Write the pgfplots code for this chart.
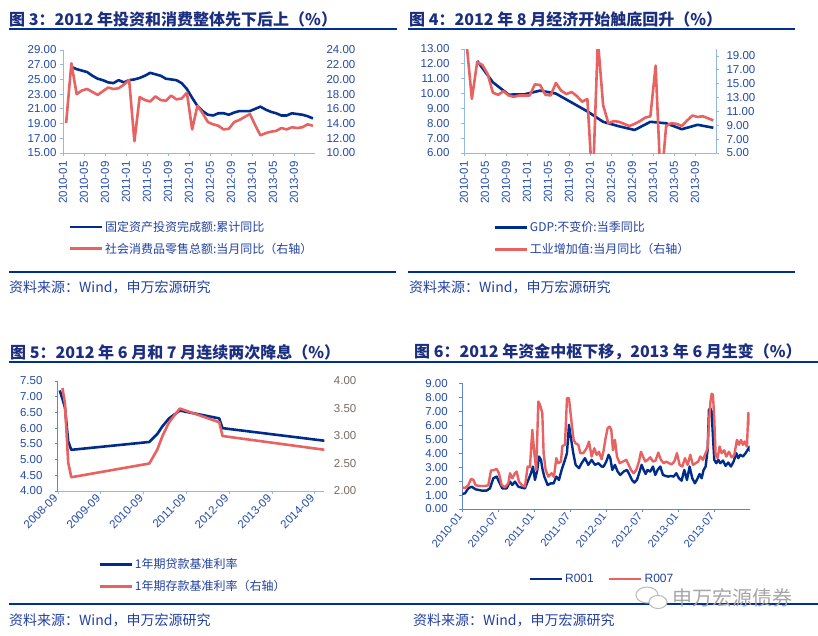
\documentclass[border=0pt]{standalone}
\usepackage{fontspec}
\setmainfont{Liberation Sans}
\newfontfamily\cjk{Noto Sans CJK SC}
\usepackage{pgfplots}
\pgfplotsset{compat=1.18}
\definecolor{navy}{RGB}{0,45,140}
\definecolor{salmon}{RGB}{232,98,98}
\definecolor{ttl}{RGB}{28,46,128}
\definecolor{rule}{RGB}{0,48,145}
\definecolor{tk}{RGB}{35,75,170}
\definecolor{ax}{RGB}{150,185,228}
\definecolor{axd}{RGB}{95,135,205}
\definecolor{ft}{RGB}{35,65,160}
\definecolor{tkg}{RGB}{120,110,100}
\pgfplotsset{
  base/.style={scale only axis, clip=true,
    axis line style={ax, line width=1pt, -},
    tick style={ax, line width=0.8pt},
    major tick length=3pt, tick align=outside,
    ticklabel style={font=\fontsize{11.5}{12}\selectfont, text=tk},
    yticklabel style={/pgf/number format/fixed, /pgf/number format/fixed zerofill,
      /pgf/number format/precision=2, /pgf/number format/assume math mode=true},
  },
  bl/.style={navy, line width=2.6pt, line join=round, no marks},
  rd/.style={salmon, line width=2.6pt, line join=round, no marks},
  leg/.style={legend style={draw=none, fill=none, inner sep=0pt,
      font=\cjk\fontsize{12}{13}\selectfont, text=ft, row sep=6pt, cells={anchor=west}},
    legend cell align=left,
    legend image code/.code={\draw[##1, line width=2.8pt] (0pt,0pt) -- (32pt,0pt);}},
}
\begin{document}
\begin{tikzpicture}
\fill[white] (0,0) rectangle (818pt,-635pt);
\path[use as bounding box] (0,0) rectangle (818pt,-635pt);

% ---------- titles, rules, footers ----------
\begin{scope}[every node/.style={anchor=west, inner sep=0pt}]
\node[text=ttl, font=\cjk\bfseries\fontsize{16}{16}\selectfont] at (9pt,-19pt) {图 3：2012 年投资和消费整体先下后上（\%）};
\node[text=ttl, font=\cjk\bfseries\fontsize{16}{16}\selectfont] at (409pt,-19pt) {图 4：2012 年 8 月经济开始触底回升（\%）};
\node[text=ttl, font=\cjk\bfseries\fontsize{16}{16}\selectfont] at (10pt,-352pt) {图 5：2012 年 6 月和 7 月连续两次降息（\%）};
\node[text=ttl, font=\cjk\bfseries\fontsize{16}{16}\selectfont] at (414pt,-352pt) {图 6：2012 年资金中枢下移，2013 年 6 月生变（\%）};
\node[text=ft, font=\cjk\fontsize{14}{14}\selectfont] at (9pt,-287pt) {资料来源：Wind，申万宏源研究};
\node[text=ft, font=\cjk\fontsize{14}{14}\selectfont] at (409pt,-287pt) {资料来源：Wind，申万宏源研究};
\node[text=ft, font=\cjk\fontsize{14}{14}\selectfont] at (9pt,-620pt) {资料来源：Wind，申万宏源研究};
\node[text=ft, font=\cjk\fontsize{14}{14}\selectfont] at (413pt,-620pt) {资料来源：Wind，申万宏源研究};
\end{scope}
\draw[rule, line width=2.4pt] (9pt,-29pt) -- (397pt,-29pt);
\draw[rule, line width=2.4pt] (408pt,-29pt) -- (795pt,-29pt);
\draw[rule, line width=2.4pt] (9pt,-272pt) -- (396pt,-272pt);
\draw[rule, line width=2.4pt] (408pt,-272pt) -- (795pt,-272pt);
\draw[rule, line width=2.4pt] (9pt,-362pt) -- (818pt,-362pt);
\draw[rule, line width=2.4pt] (9pt,-604pt) -- (818pt,-604pt);

% ---------- Panel 1 ----------
\begin{axis}[base, at={(63pt,-153pt)}, anchor=south west, width=252pt, height=103pt,
  xmin=0, xmax=48, ymin=15, ymax=29, ytick={15,17,...,29},
  xtick={0,4,...,44},
  xticklabels={2010-01,2010-05,2010-09,2011-01,2011-05,2011-09,2012-01,2012-05,2012-09,2013-01,2013-05,2013-09},
  xticklabel style={rotate=90, anchor=east, xshift=-2pt},
  axis x line*=bottom, axis y line*=left]
\addplot[bl] coordinates {(1.6,26.7)(2.6,26.4)(3.6,26.2)(4.6,26.0)(5.6,25.5)(6.6,25.1)(7.6,24.9)(8.6,24.6)(9.6,24.5)(10.6,24.9)(11.6,24.6)(12.6,24.9)(13.6,25.0)(14.6,25.2)(15.6,25.5)(16.6,25.9)(17.6,25.7)(18.6,25.5)(19.6,25.1)(20.6,25.0)(21.6,24.9)(22.6,24.5)(23.6,23.7)(24.6,22.5)(25.6,21.4)(26.6,20.7)(27.6,20.2)(28.6,20.1)(29.6,20.4)(30.6,20.4)(31.6,20.2)(32.6,20.5)(33.6,20.7)(34.6,20.7)(35.6,20.7)(36.6,21.0)(37.6,21.3)(38.6,20.9)(39.6,20.6)(40.6,20.4)(41.6,20.1)(42.6,20.1)(43.6,20.4)(44.6,20.3)(45.6,20.2)(46.6,20.0)(47.6,19.7)};
\end{axis}
\begin{axis}[base, leg, at={(63pt,-153pt)}, anchor=south west, width=252pt, height=103pt,
  xmin=0, xmax=48, ymin=10, ymax=24, ytick={10,12,...,24},
  axis y line*=right, axis x line=none, y axis line style={draw=none}, ytick style={draw=none},
  yticklabel style={xshift=5pt},
  legend style={at={(0.02,-0.64)}, anchor=north west}]
\addlegendimage{bl}\addlegendentry{固定资产投资完成额:累计同比}
\addplot[rd] coordinates {(0.6,14.1)(1.6,22.2)(2.6,18.0)(3.6,18.5)(4.6,18.7)(5.6,18.3)(6.6,17.9)(7.6,18.4)(8.6,18.9)(9.6,18.7)(10.6,18.8)(11.6,19.3)(12.6,19.9)(13.6,11.6)(14.6,17.6)(15.6,17.2)(16.6,17.0)(17.6,17.7)(18.6,17.2)(19.6,17.1)(20.6,17.8)(21.6,17.3)(22.6,17.4)(23.6,18.2)(24.6,13.2)(25.6,16.4)(26.6,15.4)(27.6,14.2)(28.6,13.9)(29.6,13.7)(30.6,13.2)(31.6,13.3)(32.6,14.2)(33.6,14.5)(34.6,14.9)(35.6,15.3)(36.6,13.8)(37.6,12.4)(38.6,12.7)(39.6,12.9)(40.6,13.0)(41.6,13.4)(42.6,13.2)(43.6,13.5)(44.6,13.4)(45.6,13.5)(46.6,13.9)(47.6,13.7)};
\addlegendentry{社会消费品零售总额:当月同比（右轴）}
\end{axis}

% ---------- Panel 2 ----------
\begin{axis}[base, at={(464pt,-153pt)}, anchor=south west, width=252pt, height=104pt,
  xmin=0, xmax=48, ymin=6, ymax=13, ytick={6,7,...,13},
  xtick={0,4,...,44},
  xticklabels={2010-01,2010-05,2010-09,2011-01,2011-05,2011-09,2012-01,2012-05,2012-09,2013-01,2013-05,2013-09},
  xticklabel style={rotate=90, anchor=east, xshift=-2pt},
  yticklabel style={xshift=-8pt},
  axis x line*=bottom, axis y line*=left]
\addplot[bl] coordinates {(2.5,12.2)(5.5,10.76)(8.5,9.93)(11.5,9.95)(14.5,10.2)(17.5,10.0)(20.5,9.4)(23.5,8.8)(26.5,8.1)(29.5,7.8)(32.5,7.55)(35.5,8.1)(38.5,8.0)(41.5,7.6)(44.5,7.9)(47.5,7.7)};
\end{axis}
\begin{axis}[base, leg, at={(464pt,-153pt)}, anchor=south west, width=252pt, height=104pt,
  xmin=0, xmax=48, ymin=5, ymax=20, ytick={5,7,...,19},
  axis y line*=right, axis x line=none,
  yticklabel style={xshift=4pt},
  legend style={at={(0.115,-0.64)}, anchor=north west}]
\addlegendimage{bl}\addlegendentry{GDP:不变价:当季同比}
\addplot[rd] coordinates {(0.5,20.7)(1.5,12.8)(2.5,18.1)(3.5,17.7)(4.5,16.4)(5.5,13.7)(6.5,13.4)(7.5,13.9)(8.5,13.3)(9.5,13.1)(10.5,13.3)(11.5,13.3)(12.5,13.3)(13.5,14.9)(14.5,14.8)(15.5,13.4)(16.5,13.3)(17.5,15.1)(18.5,14.0)(19.5,13.5)(20.5,13.8)(21.5,13.2)(22.5,12.4)(23.5,12.8)(24.5,0)(25.5,21.3)(26.5,11.9)(27.5,9.3)(28.5,9.6)(29.5,9.5)(30.5,9.2)(31.5,8.9)(32.5,9.2)(33.5,9.6)(34.5,10.1)(35.5,10.3)(36.5,17.6)(37.5,0)(38.5,8.9)(39.5,9.3)(40.5,9.2)(41.5,8.9)(42.5,9.7)(43.5,10.4)(44.5,10.2)(45.5,10.3)(46.5,10.0)(47.5,9.7)};
\addlegendentry{工业增加值:当月同比（右轴）}
\end{axis}

% ---------- Panel 3 ----------
\begin{axis}[base, at={(58pt,-491pt)}, anchor=south west, width=266.4pt, height=110pt,
  xmin=0, xmax=6.225, ymin=4, ymax=7.5, ytick={4,4.5,...,7.5},
  xtick={0,1,...,6},
  xticklabels={2008-09,2009-09,2010-09,2011-09,2012-09,2013-09,2014-09},
  xticklabel style={rotate=45, anchor=east},
  yticklabel style={xshift=-9pt},
  axis x line*=bottom, axis y line*=left, y axis line style={axd}, ytick style={axd}]
\addplot[bl] coordinates {(0.041,7.20)(0.104,6.93)(0.162,6.66)(0.238,5.58)(0.310,5.31)(2.134,5.56)(2.318,5.81)(2.441,6.06)(2.595,6.31)(2.847,6.56)(3.768,6.31)(3.844,6.00)(6.225,5.60)};
\end{axis}
\begin{axis}[base, leg, at={(58pt,-491pt)}, anchor=south west, width=266.4pt, height=110pt,
  xmin=0, xmax=6.225, ymin=2, ymax=4, ytick={2,2.5,...,4},
  axis y line*=right, axis x line=none, y axis line style={draw=none}, ytick style={draw=none},
  yticklabel style={text=tkg, xshift=3pt},
  legend style={at={(0.15,-0.595)}, anchor=north west}]
\addlegendimage{bl}\addlegendentry{1年期贷款基准利率}
\addplot[rd] coordinates {(0.104,3.87)(0.162,3.60)(0.238,2.52)(0.310,2.25)(2.134,2.50)(2.318,2.75)(2.441,3.00)(2.595,3.25)(2.847,3.50)(3.768,3.25)(3.844,3.00)(6.225,2.75)};
\addlegendentry{1年期存款基准利率（右轴）}
\end{axis}

% ---------- Panel 4 ----------
\begin{axis}[base, leg, at={(462.3pt,-509pt)}, anchor=south west, width=287.3pt, height=125.7pt,
  xmin=22, xmax=884, ymin=0, ymax=9, ytick={0,1,...,9},
  xtick={22,130,238,346,454,562,670,778},
  xticklabels={2010-01,2010-07,2011-01,2011-07,2012-01,2012-07,2013-01,2013-07},
  xticklabel style={rotate=50, anchor=east, font=\fontsize{11}{11}\selectfont},
  yticklabel style={xshift=-8pt},
  axis x line*=bottom, axis y line*=left, axis line style={axd}, tick style={axd},
  legend columns=-1,
  legend style={at={(0.229,-0.50)}, anchor=north west, font=\fontsize{12}{13}\selectfont,
    /tikz/every even column/.append style={column sep=12pt}}]
\addplot[bl, line width=2.4pt] coordinates {(22,1.08)(30,1.12)(40,1.48)(50,1.6)(62,1.41)(80,1.32)(95,1.32)(105,1.48)(115,2.2)(125,2.32)(132,1.96)(142,1.48)(155,1.48)(165,1.96)(172,1.72)(180,1.96)(190,1.6)(200,1.53)(210,1.48)(218,1.96)(228,2.56)(234,3.04)(240,2.08)(247,2.8)(252,3.76)(258,3.52)(263,2.8)(268,2.32)(278,1.72)(288,1.84)(296,1.84)(304,2.32)(312,2.08)(320,2.8)(330,3.52)(336,4.0)(342,6.03)(348,5.07)(355,4.0)(362,3.16)(372,2.92)(380,3.28)(390,3.64)(400,3.16)(410,3.52)(420,3.16)(430,3.28)(440,3.04)(446,3.04)(454,3.4)(461,3.88)(466,3.64)(472,2.8)(480,3.16)(488,2.68)(496,2.44)(506,2.68)(516,2.8)(524,2.44)(531,2.08)(538,1.89)(546,2.08)(554,2.68)(560,3.16)(566,2.8)(572,2.51)(578,2.8)(586,2.68)(594,3.04)(601,2.44)(608,2.8)(616,3.04)(624,2.44)(632,2.37)(640,2.32)(648,2.37)(656,2.32)(664,2.56)(672,2.2)(680,2.03)(688,2.8)(696,2.08)(704,3.04)(712,2.2)(720,1.84)(728,2.2)(734,2.51)(740,2.2)(746,2.8)(752,3.04)(758,4.23)(762,7.1)(766,7.22)(770,6.98)(774,5.19)(778,3.52)(784,3.28)(790,3.52)(796,3.28)(804,3.47)(812,3.09)(820,3.33)(828,3.04)(836,3.4)(844,4.0)(850,3.64)(856,3.88)(864,3.76)(872,4.0)(878,4.23)(884,4.47)(886,4.1)};
\addlegendentry{R001}
\addplot[rd, line width=2.4pt] coordinates {(22,1.55)(30,1.5)(40,1.7)(48,2.15)(55,2.1)(62,1.7)(75,1.65)(90,1.65)(100,1.7)(108,2.75)(118,2.8)(125,2.87)(132,2.56)(140,1.72)(150,1.55)(160,1.84)(165,2.56)(172,2.2)(180,2.56)(185,2.68)(192,1.96)(200,1.72)(210,1.6)(218,3.04)(225,3.0)(232,5.67)(238,4.0)(244,2.8)(250,7.7)(255,7.46)(262,6.87)(266,4.0)(272,2.8)(280,2.32)(290,2.56)(297,2.3)(304,3.64)(310,3.28)(318,3.4)(322,4.5)(330,4.6)(336,7.94)(342,7.94)(350,6.15)(356,4.95)(362,4.7)(370,4.6)(376,4.0)(385,4.0)(395,4.35)(402,4.83)(410,3.76)(418,4.35)(425,3.88)(432,4.1)(440,3.56)(446,4.2)(451,4.95)(458,5.8)(464,5.9)(469,5.67)(474,4.2)(480,4.95)(486,3.76)(494,3.28)(504,3.4)(514,3.52)(521,3.16)(528,2.8)(536,2.56)(544,2.8)(552,3.4)(558,4.1)(564,3.76)(571,3.4)(578,3.52)(586,3.7)(594,3.4)(602,3.47)(610,4.04)(618,3.52)(626,3.28)(634,3.4)(642,3.28)(650,3.2)(658,3.4)(666,4.0)(674,3.16)(682,3.04)(690,3.64)(698,3.16)(706,3.88)(714,3.16)(722,3.28)(730,3.4)(736,3.76)(744,3.52)(752,4.0)(758,4.35)(762,6.15)(766,7.58)(770,8.25)(774,8.2)(778,6.4)(782,3.88)(788,3.64)(794,4.47)(800,4.0)(808,4.2)(814,3.76)(822,4.1)(830,3.7)(838,3.88)(846,4.95)(852,4.6)(858,4.95)(864,4.6)(869,4.83)(876,4.47)(880,6.87)(884,6.75)(886,6.0)};
\addlegendentry{R007}
\end{axis}

% watermark
\draw[gray!55, line width=1pt, fill=white] (647pt,-595pt) ellipse (11pt and 8pt);
\draw[gray!55, line width=1pt, fill=white] (658pt,-602pt) ellipse (9pt and 6.5pt);
\node[anchor=west, inner sep=0pt, text=gray!70, font=\cjk\fontsize{20}{20}\selectfont] at (672pt,-598pt) {申万宏源债券};
\end{tikzpicture}
\end{document}
